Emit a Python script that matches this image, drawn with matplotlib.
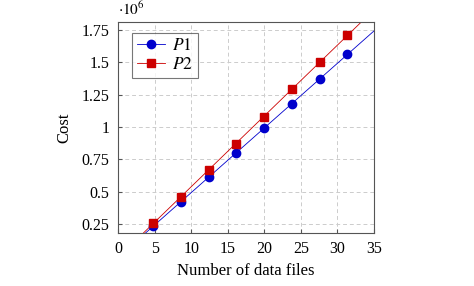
import numpy as np
import matplotlib
matplotlib.use("Agg")
import matplotlib.pyplot as plt

plt.rcParams['font.family'] = ['Liberation Serif', 'DejaVu Serif']
plt.rcParams['mathtext.fontset'] = 'stix'

files = [4.8, 8.6, 12.4, 16.2, 20.0, 23.8, 27.6, 31.3]
p1_cost = [0.235, 0.42, 0.615, 0.80, 0.99, 1.18, 1.37, 1.56]
p2_cost = [0.26, 0.46, 0.67, 0.87, 1.08, 1.29, 1.50, 1.71]
xticks = [0, 5, 10, 15, 20, 25, 30, 35]
yticks = [0.25, 0.5, 0.75, 1.0, 1.25, 1.5, 1.75]
ytick_labels = ["0.25", "0.5", "0.75", "1", "1.25", "1.5", "1.75"]

fig = plt.figure(figsize=(4.74, 2.86), dpi=100)
ax = fig.add_axes([0.249, 0.185, 0.540, 0.738])

xs = np.array([0, 35])
for ys, col, mk, lab in [(p1_cost, '#0000cc', 'o', '$P1$'), (p2_cost, '#cc0000', 's', '$P2$')]:
    k, b = np.polyfit(files, ys, 1)
    ax.plot(xs, k * xs + b, color=col, lw=0.6, zorder=2)
    ax.plot(files, ys, linestyle='none', marker=mk, color=col, ms=6, zorder=3)
    ax.plot([], [], color=col, lw=0.6, marker=mk, ms=6, label=lab)

ax.set_xlim(0, 35)
ax.set_ylim(0.18, 1.81)
ax.set_xticks(xticks)
ax.set_yticks(yticks)
ax.set_yticklabels(ytick_labels)
ax.tick_params(direction='in', length=3, labelsize=11.5, color='#555555', pad=6)
ax.grid(True, linestyle=(0, (4, 3)), color='#cccccc', lw=0.7)
ax.set_axisbelow(True)
for s in ax.spines.values():
    s.set_color('#555555')
    s.set_linewidth(0.8)

ax.set_xlabel('Number of data files', fontsize=12, labelpad=4)
ax.set_ylabel('Cost', fontsize=12, labelpad=7)
ax.text(0.0, 1.02, r'$\cdot10^{6}$', transform=ax.transAxes, fontsize=11, ha='left', va='bottom')

leg = ax.legend(loc='upper left', fontsize=12.5, frameon=True, fancybox=False,
                edgecolor='#555555', handlelength=1.6, borderpad=0.3,
                labelspacing=0.15, handletextpad=0.4, bbox_to_anchor=(0.02, 0.99))
leg.get_frame().set_linewidth(0.8)

fig.savefig('out.png', dpi=100)
